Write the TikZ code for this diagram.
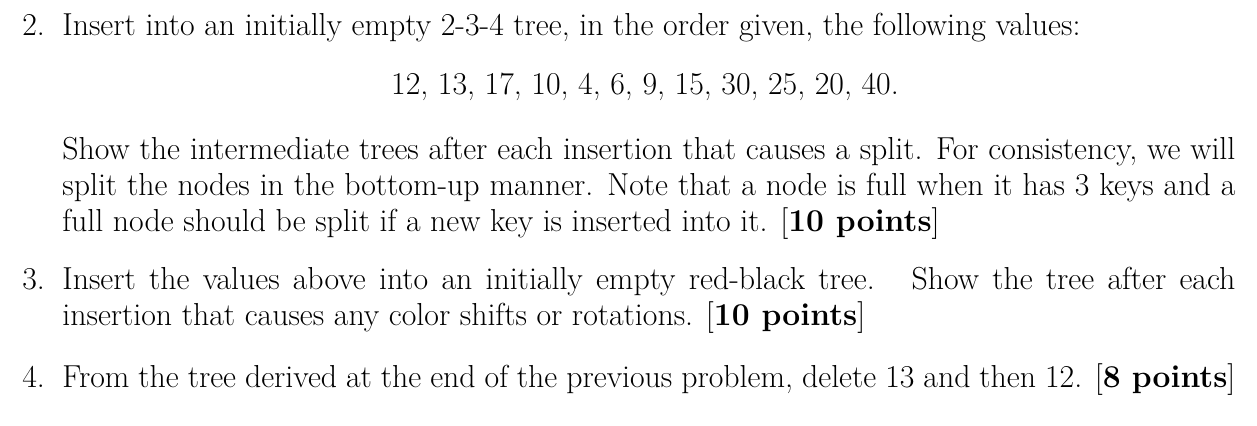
\documentclass[tikz,border=0pt]{standalone}
\begin{document}
\begin{tikzpicture}[x=0.5pt,y=-0.5pt,txt/.style={anchor=base west,inner sep=0pt,font=\fontsize{15.9}{18}\selectfont}]
\useasboundingbox (0,0) rectangle (1257,425);
\node[txt] (n1) at (22,35) {2.};
\node[txt] (a1) at (62,35) {Insert into an initially empty 2-3-4 tree, in the order given, the following values:};
\node[txt,anchor=base] (a2) at (645,94) {12, 13, 17, 10, 4, 6, 9, 15, 30, 25, 20, 40.};
\node[txt] (b1) at (62,159) {\makebox[586.5pt][s]{Show the intermediate trees after each insertion that causes a split. For consistency, we will}};
\node[txt] (b2) at (62,195) {\makebox[586.5pt][s]{split the nodes in the bottom-up manner. Note that a node is full when it has 3 keys and a}};
\node[txt] (b3) at (62,231) {full node should be split if a new key is inserted into it. [\textbf{10 points}]};
\node[txt] (n3) at (22,289) {3.};
\node[txt] (c1) at (62,289) {\makebox[586.5pt][s]{Insert the values above into an initially empty red-black tree. \ Show the tree after each}};
\node[txt] (c2) at (62,325) {insertion that causes any color shifts or rotations. [\textbf{10 points}]};
\node[txt] (n4) at (22,387) {4.};
\node[txt] (d1) at (62,387) {\makebox[586.5pt][s]{From the tree derived at the end of the previous problem, delete 13 and then 12. [\textbf{8 points}]}};
\end{tikzpicture}
\end{document}
